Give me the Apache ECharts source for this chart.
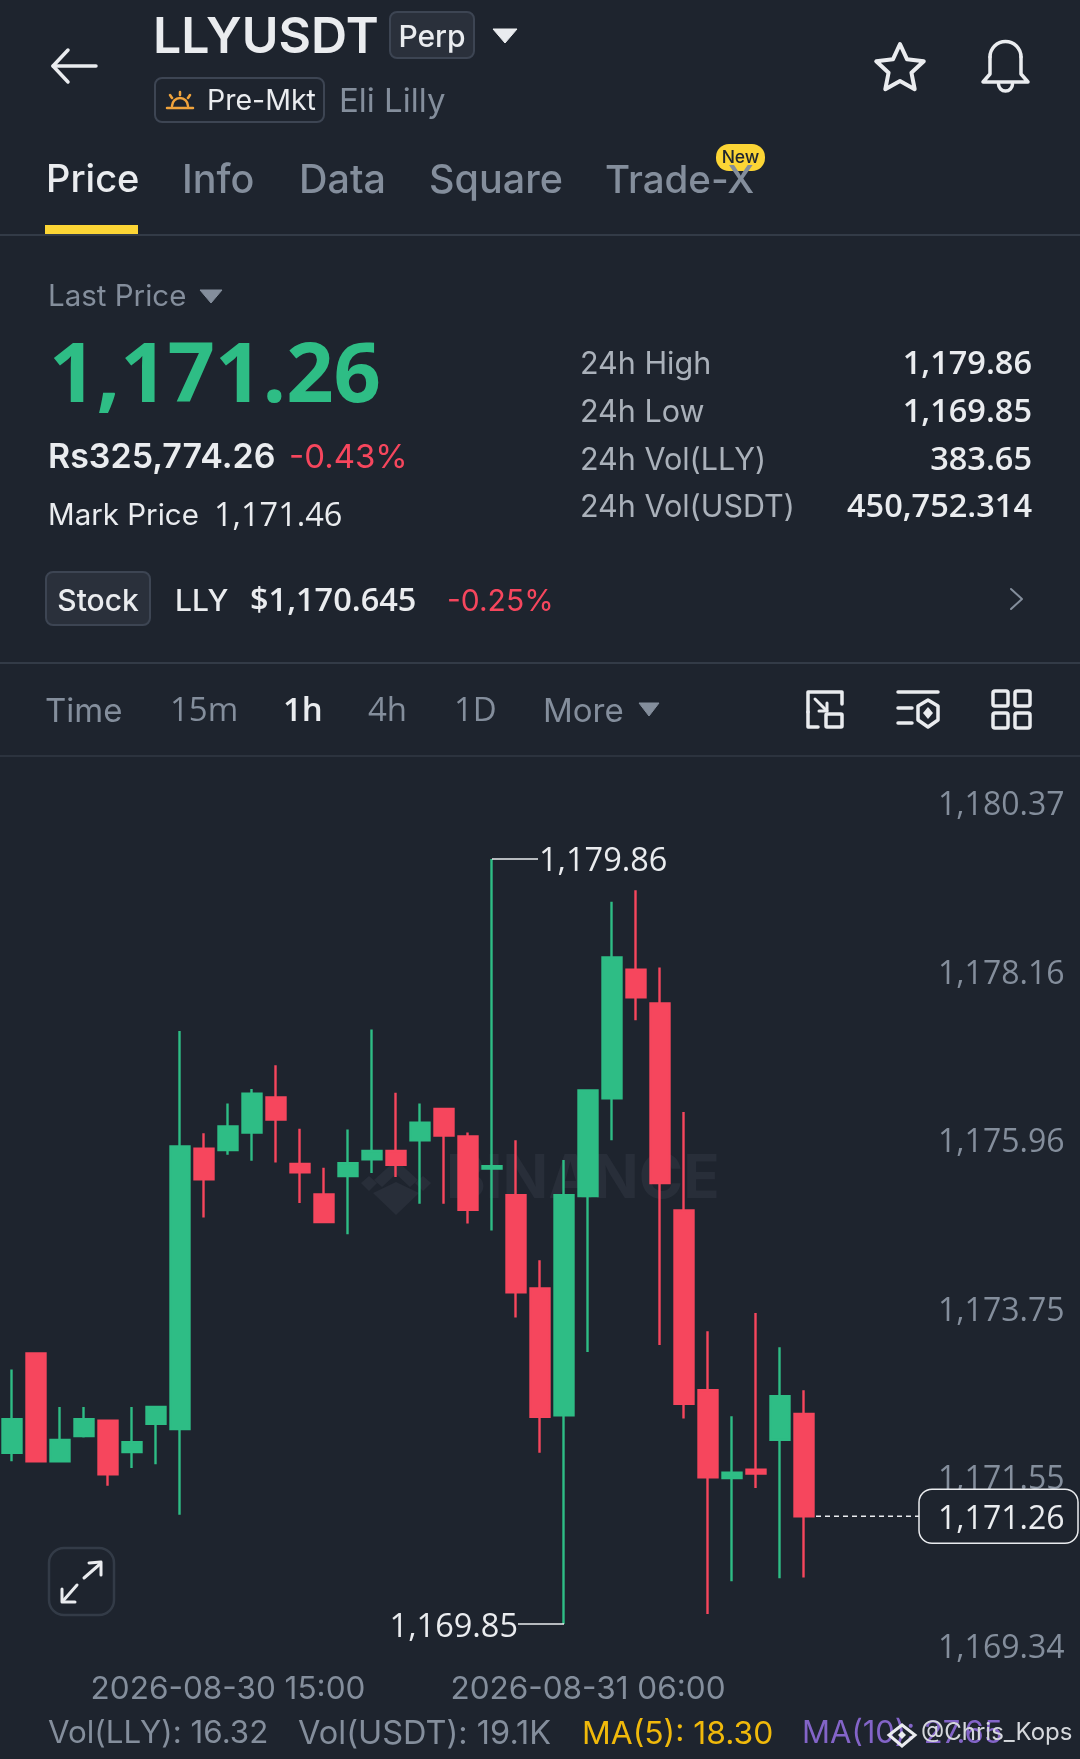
<!DOCTYPE html>
<html><head><meta charset="utf-8">
<style>html,body{margin:0;padding:0;background:#1e242e}#c{width:1080px;height:1759px}</style>
<script src="https://cdn.jsdelivr.net/npm/echarts@6/dist/echarts.min.js"></script>
</head><body><div id="c"></div>
<script>
const categories=[
'2026-08-30 06:00','2026-08-30 07:00','2026-08-30 08:00','2026-08-30 09:00','2026-08-30 10:00','2026-08-30 11:00','2026-08-30 12:00','2026-08-30 13:00','2026-08-30 14:00','2026-08-30 15:00',
'2026-08-30 16:00','2026-08-30 17:00','2026-08-30 18:00','2026-08-30 19:00','2026-08-30 20:00','2026-08-30 21:00','2026-08-30 22:00','2026-08-30 23:00','2026-08-31 00:00','2026-08-31 01:00',
'2026-08-31 02:00','2026-08-31 03:00','2026-08-31 04:00','2026-08-31 05:00','2026-08-31 06:00','2026-08-31 07:00','2026-08-31 08:00','2026-08-31 09:00','2026-08-31 10:00','2026-08-31 11:00',
'2026-08-31 12:00','2026-08-31 13:00','2026-08-31 14:00','2026-08-31 15:00','2026-08-31 16:00','2026-08-31 17:00','2026-08-31 18:00','2026-08-31 19:00','2026-08-31 20:00','2026-08-31 21:00',
'2026-08-31 22:00','2026-08-31 23:00','2026-09-01 00:00','2026-09-01 01:00','2026-09-01 02:00'];
const opens=[1172.09,1173.39,1171.98,1172.31,1172.51,1172.10,1172.47,1172.40,1176.07,1176.05,1176.28,1176.74,1175.87,1175.47,1175.71,1175.93,1176.04,1176.18,1176.59,1176.23,1175.81,1175.46,1174.24,1172.58,1175.45,1176.73,1178.41,1177.97,1175.26,1172.91,1171.76,1171.87,1172.26,1172.60];
const closes=[1172.53,1171.98,1172.26,1172.53,1171.81,1172.23,1172.69,1176.10,1175.67,1176.36,1176.79,1176.45,1175.76,1175.11,1175.88,1176.04,1175.86,1176.41,1176.24,1175.27,1175.84,1174.19,1172.56,1175.46,1176.83,1178.57,1178.05,1175.62,1172.73,1171.77,1171.83,1171.82,1172.83,1171.26];
const lows=[1171.98,1171.98,1171.97,1172.29,1171.66,1171.89,1171.94,1171.28,1175.17,1175.99,1175.91,1175.89,1175.36,1175.11,1174.95,1175.75,1175.70,1175.35,1175.35,1175.09,1175.00,1173.86,1172.09,1169.85,1173.41,1176.18,1177.75,1173.50,1172.54,1169.98,1170.41,1171.63,1170.45,1170.46];
const highs=[1173.18,1173.39,1172.69,1172.69,1172.51,1172.69,1172.69,1177.61,1176.27,1176.66,1176.85,1177.16,1176.33,1175.82,1176.32,1177.63,1176.80,1176.66,1176.59,1176.28,1179.86,1176.18,1174.61,1175.92,1176.83,1179.30,1179.45,1178.44,1176.55,1173.68,1172.57,1173.92,1173.47,1172.91];
const yTicks=[1169.34,1171.55,1173.75,1175.96,1178.16,1180.37];
const xTickIndexes=[9,24];
const extremes=[[20,1179.86,1],[23,1169.85,-1]];
const lastPrice=[[33,1171.26]];

const GREEN='#2ebd85',RED='#f6465d',BG='#1e242e',WHITE='#eaecef',GREY='#848e9c',LINE='#333b47';
const F='Inter, "Noto Sans", sans-serif';
const N='"Open Sans", Inter, sans-serif';
const fmt=v=>v.toLocaleString('en-US',{minimumFractionDigits:2,maximumFractionDigits:2});

const g=[];
function t(x,y,text,size,fill,weight,align,family){g.push({type:'text',x,y,z:5,style:{text,fontSize:size,fill,fontWeight:weight||400,fontFamily:family||F,align:align||'left',verticalAlign:'middle'}});}
function rect(x,y,w,h,fill,stroke,r,lw){g.push({type:'rect',z:4,shape:{x,y,width:w,height:h,r:r||0},style:{fill:fill||'none',stroke:stroke||'none',lineWidth:lw||2}});}
function pl(points,stroke,lw){g.push({type:'polyline',z:5,shape:{points},style:{stroke,lineWidth:lw||3,fill:'none',lineCap:'round',lineJoin:'round'}});}
function tri(x0,x1,y0,y1,fill){g.push({type:'polygon',z:5,shape:{points:[[x0,y0],[x1,y0],[(x0+x1)/2,y1]]},style:{fill,stroke:fill,lineWidth:1,lineJoin:'round'}});}
function arc(cx,cy,r,a,b,stroke,lw){g.push({type:'arc',z:5,shape:{cx,cy,r,startAngle:a,endAngle:b,clockwise:true},style:{stroke,lineWidth:lw||3,fill:'none',lineCap:'round'}});}

// header
pl([[68,50],[53,66],[68,82]],WHITE,3.5);pl([[53,66],[96,66]],WHITE,3.5);
t(153,38,'LLYUSDT',50,WHITE,600);
rect(390,12,84,46,'#2a303b','#3d4553',7);
t(432,38,'Perp',30,WHITE,500,'center');
tri(493,517,29,43,WHITE);
rect(155,78,169,44,'#1e242e','#3d4553',7);
t(207,101,'Pre-Mkt',28.5,WHITE,400);
t(339,102,'Eli Lilly',33,GREY,400);
// sun
pl([[167,108],[193,108]],'#f0a33c',2.5);
arc(180,106,8,Math.PI,2*Math.PI,'#f0a33c',2.5);
pl([[180,92],[180,95]],'#f0a33c',2.5);pl([[170,95],[172,98]],'#f0a33c',2.5);pl([[190,95],[188,98]],'#f0a33c',2.5);
// star
const star=[];for(let i=0;i<10;i++){const r=i%2?12:25,a=-Math.PI/2+i*Math.PI/5;star.push([900+r*Math.cos(a),69+r*Math.sin(a)]);}
g.push({type:'polygon',z:5,shape:{points:star},style:{stroke:WHITE,lineWidth:4,fill:'none',lineJoin:'round'}});
// bell
arc(1005.5,57,15.5,Math.PI,2*Math.PI,WHITE,3.5);
pl([[990,57],[990,74],[983,82],[1028,82],[1021,74],[1021,57]],WHITE,3.5);
arc(1005.5,84,7,0,Math.PI,WHITE,3.5);
// tabs
t(46,181,'Price',38,WHITE,500);
t(182,181,'Info',39.5,GREY,500);
t(299,181,'Data',39.5,GREY,500);
t(429,181,'Square',39.5,GREY,500);
t(605,181,'Trade-X',38.5,GREY,500);
rect(716,144,49,27,'#fcd535',null,13);
t(740.5,158,'New',17.5,'#202630',500,'center');
rect(45,225,93,9,'#fcd535');
rect(0,234,1080,2,'#333b47');
// price
t(48,297,'Last Price',29.5,GREY,400);
tri(200,222,290,303,GREY);
t(49,378,'1,171.26',83,GREEN,700,'left',N);
t(48,458,'Rs325,774.26',34,WHITE,600);
t(289,458,'-0.43%',33,RED,400);
t(48,516,'Mark Price',29.5,WHITE,400);
t(214,517,'1,171.46',32.5,WHITE,400,'left',N);
const stats=[['24h High','1,179.86',365],['24h Low','1,169.85',413],['24h Vol(LLY)','383.65',461],['24h Vol(USDT)','450,752.314',508]];
stats.forEach(s=>{t(580,s[2],s[0],30.5,'#aab1ba',400);t(1032,s[2],s[1],32.5,WHITE,600,'right',N);});
rect(46,572,104,53,'#2a303b','#3d4553',7);
t(98,602,'Stock',30,WHITE,500,'center');
t(175,602,'LLY',30,WHITE,500);
t(250,602,'$1,170.645',32.5,WHITE,600,'left',N);
t(447,602,'-0.25%',30,RED,400);
pl([[1011,589],[1022,599],[1011,609]],GREY,2);
rect(0,662,1080,2,'#333b47');
rect(0,755,1080,2,'#2c333e');
// periods
[['Time',45,GREY,400,F],['15m',170,GREY,400,N],['1h',283,WHITE,600,N],['4h',368,GREY,400,N],['1D',454,GREY,400,N],['More',543,GREY,400,F]].forEach(p=>t(p[1],712,p[0],33,p[2],p[3],'left',p[4]));
tri(639,659,703,716,GREY);
// toolbar icons
pl([[808,712],[808,692],[842,692],[842,704]],WHITE,3.5);
pl([[808,712],[808,727],[818,727]],WHITE,3.5);
pl([[815,699],[827,711]],WHITE,3);pl([[827,703],[827,711],[819,711]],WHITE,3);
rect(826,714,16,13,null,WHITE,1,3.5);
pl([[898,692],[938,692]],WHITE,3.5);pl([[898,708],[912,708]],WHITE,3.5);pl([[898,723],[912,723]],WHITE,3.5);
g.push({type:'polygon',z:5,shape:{points:[[928,700],[938,706],[938,720],[928,727],[918,720],[918,706]]},style:{stroke:WHITE,lineWidth:3.5,fill:'none',lineJoin:'round'}});
g.push({type:'polygon',z:5,shape:{points:[[928,707],[933,713],[928,719],[923,713]]},style:{fill:WHITE}});
[[993,691],[1015,691],[993,713],[1015,713]].forEach(p=>rect(p[0],p[1],15,15,null,WHITE,2,3.5));
// watermark
[[[396,1160],[418,1180],[410,1187],[396,1174],[382,1187],[374,1180]],[[396,1182],[419,1193],[396,1215],[373,1193]],[[361,1183],[369,1176],[377,1183],[369,1191]],[[431,1183],[423,1176],[415,1183],[423,1191]]].forEach(p=>g.push({type:'polygon',z:0,shape:{points:p},style:{fill:'#282e39'}}));
g.push({type:'text',x:446,y:1180,z:0,style:{text:'BINANCE',fontSize:60,fontWeight:700,fill:'#282e39',fontFamily:F,verticalAlign:'middle'}});
// expand button
rect(49,1548,65,67,'#1e242e','#333b47',15,2.5);
pl([[84,1578],[100,1564]],WHITE,3);pl([[89,1563],[101,1562],[101,1575]],WHITE,3);
pl([[77,1585],[63,1601]],WHITE,3);pl([[62,1589],[62,1602],[75,1602]],WHITE,3);
// footer
t(48,1734,'Vol(LLY): 16.32',31.3,GREY,400);
t(298,1734,'Vol(USDT): 19.1K',32.5,GREY,400);
t(582,1734,'MA(5): 18.30',31.8,'#f0b90b',400);
t(802,1734,'MA(10): 27.65',31,'#8364c8',400);
g.push({type:'polygon',z:6,shape:{points:[[902,1725],[915,1735],[902,1746],[889,1735]]},style:{fill:'none',stroke:WHITE,lineWidth:3}});
g.push({type:'polygon',z:6,shape:{points:[[902,1731],[906,1735],[902,1739],[898,1735]]},style:{fill:WHITE}});
g.push({type:'text',x:921,y:1733,z:6,style:{text:'@Chris_Kops',fontSize:24,fill:'#d5d8dc',fontFamily:F,verticalAlign:'middle'}});

const chart=echarts.init(document.getElementById('c'),null,{renderer:'canvas'});
chart.setOption({
 animation:false,backgroundColor:BG,
 grid:{left:0,right:-1.4,top:820,height:843,containLabel:false},
 xAxis:{type:'category',data:categories,axisLine:{show:false},axisTick:{show:false},splitLine:{show:false},
  axisLabel:{interval:i=>xTickIndexes.includes(i),color:GREY,fontSize:31.5,fontFamily:F,margin:11,hideOverlap:false}},
 yAxis:{type:'value',position:'right',min:yTicks[0],max:yTicks[yTicks.length-1],scale:true,
  axisLine:{show:false},axisTick:{show:false,customValues:yTicks},splitLine:{show:false},
  axisLabel:{inside:true,customValues:yTicks,margin:15.5,color:GREY,fontSize:32,lineHeight:28,fontFamily:N,verticalAlign:'bottom',formatter:v=>fmt(v),showMinLabel:true,showMaxLabel:true}},
 graphic:{elements:g},
 series:[
  {type:'candlestick',barWidth:19,z:3,data:opens.map((o,i)=>[o,closes[i],lows[i],highs[i]]),
   itemStyle:{color:GREEN,color0:RED,borderColor:GREEN,borderColor0:RED,borderWidth:2.4}},
  {type:'custom',z:4,clip:false,silent:true,data:extremes,encode:{x:0,y:1},
   renderItem:(p,api)=>{const c=api.coord([api.value(0),api.value(1)]),d=api.value(2);
    return {type:'group',children:d>0?[
     {type:'line',shape:{x1:c[0],y1:c[1],x2:c[0]+46,y2:c[1]},style:{stroke:WHITE,lineWidth:1.5}},
     {type:'text',x:c[0]+47,y:c[1]+3,style:{text:fmt(api.value(1)),fontSize:32.5,fill:WHITE,fontFamily:N,verticalAlign:'middle',align:'left'}}
    ]:[
     {type:'line',shape:{x1:c[0]-46,y1:c[1],x2:c[0],y2:c[1]},style:{stroke:WHITE,lineWidth:1.5}},
     {type:'text',x:c[0]-46,y:c[1]+4,style:{text:fmt(api.value(1)),fontSize:32.5,fill:WHITE,fontFamily:N,verticalAlign:'middle',align:'right'}}
    ]};}},
  {type:'custom',z:5,clip:false,silent:true,data:lastPrice,encode:{x:0,y:1},
   renderItem:(p,api)=>{const c=api.coord([api.value(0),api.value(1)]);
    return {type:'group',children:[
     {type:'line',shape:{x1:c[0]+12,y1:c[1],x2:919,y2:c[1]},style:{stroke:WHITE,lineWidth:1.5,lineDash:[5,4]}},
     {type:'rect',shape:{x:919,y:c[1]-27,width:159,height:54,r:13},style:{fill:BG,stroke:WHITE,lineWidth:1.5}},
     {type:'text',x:1064.5,y:c[1]+4,style:{text:fmt(api.value(1)),fontSize:32,fill:WHITE,fontFamily:N,align:'right',verticalAlign:'middle'}}
    ]};}}
 ]
});
</script></body></html>
